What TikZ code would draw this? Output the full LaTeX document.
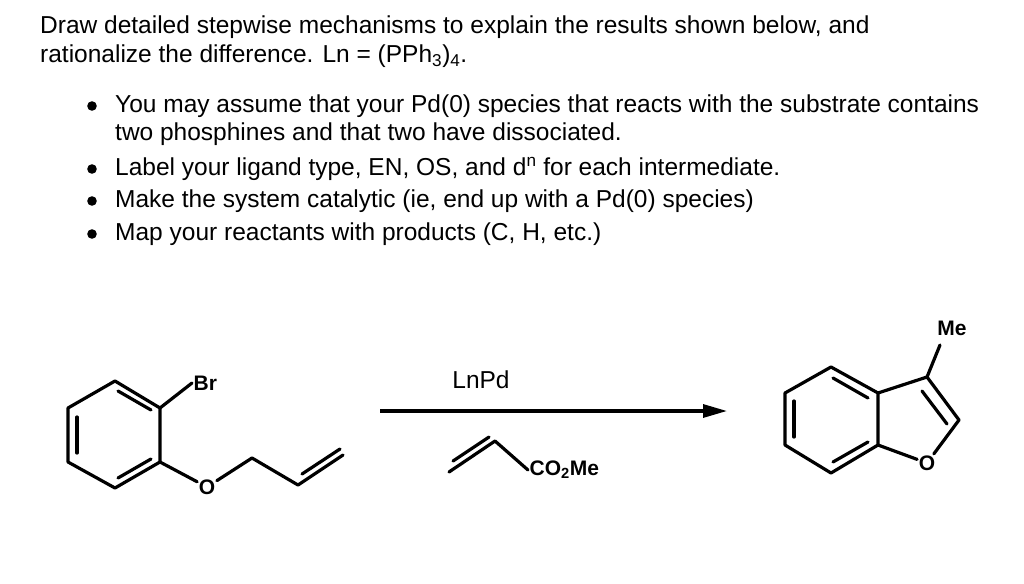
\documentclass[tikz,border=0pt]{standalone}
\usepackage{fontspec}
\setmainfont{Liberation Sans}
\usetikzlibrary{arrows.meta}
\begin{document}
\begin{tikzpicture}[x=1pt,y=-1pt,
  bond/.style={line width=3.2pt,line cap=round,line join=round},
  txt/.style={anchor=west,inner sep=0,font=\fontsize{24.5}{28}\selectfont},
  atom/.style={inner sep=1.5pt,font=\bfseries\fontsize{21}{24}\selectfont,fill=white}]
\useasboundingbox (0,0) rectangle (1024,583);
\fill[white] (0,0) rectangle (1024,583);
\node[txt] (t1) at (40,27) {Draw detailed stepwise mechanisms to explain the results shown below, and};
\node[txt] (t2) at (40,56) {rationalize the difference. Ln = (PPh\textsubscript{3})\textsubscript{4}.};
\foreach \y/\s [count=\i] in {106/{You may assume that your Pd(0) species that reacts with the substrate contains},
  169/{Label your ligand type, EN, OS, and d\textsuperscript{n} for each intermediate.},
  201/{Make the system catalytic (ie, end up with a Pd(0) species)},
  234/{Map your reactants with products (C, H, etc.)}}{
  \node[txt] (b\i) at (115,\y) {\s};
  \fill (92,\y) circle (4.8);
}
\node[txt] (b1b) at (115,134) {two phosphines and that two have dissociated.};
% left molecule
\coordinate (a1) at (115,381); \coordinate (a2) at (160,408); \coordinate (a3) at (160,462);
\coordinate (a4) at (115,488); \coordinate (a5) at (68,462); \coordinate (a6) at (68,408);
\draw[bond] (a1)--(a2)--(a3)--(a4)--(a5)--(a6)--cycle;
\draw[bond] (77,417) -- (77,453);
\draw[bond] (118,478) -- (151,459);
\draw[bond] (118,391) -- (151,410);
\node[atom,anchor=west] (br) at (192,383) {Br};
\draw[bond] (a2) -- (br.west);
\node[atom] (o1) at (207,487) {O};
\draw[bond] (a3) -- (o1);
\coordinate (c1) at (252,458); \coordinate (c2) at (298,485); \coordinate (c3) at (343,455);
\draw[bond] (o1) -- (c1) -- (c2) -- (c3);
\draw[bond] (302,474) -- (340,449);
% arrow
\coordinate (arS) at (380,411); \coordinate (arE) at (727,411);
\draw[line width=3.2pt,-{Triangle[length=24pt,width=13pt]}] (arS) -- (arE);
\node[inner sep=0,font=\fontsize{24.5}{28}\selectfont] (lnpd) at (481,380) {LnPd};
% acrylate
\node[atom,anchor=west] (co2) at (528,470) {CO\textsubscript{2}Me};
\coordinate (d1) at (449,472); \coordinate (d2) at (495,441);
\draw[bond] (d1) -- (d2) -- (co2.west);
\draw[bond] (453,461) -- (489,437);
% benzofuran
\coordinate (e1) at (831,367); \coordinate (e2) at (878,393); \coordinate (e3) at (878,445);
\coordinate (e4) at (831,473); \coordinate (e5) at (785,445); \coordinate (e6) at (785,393);
\draw[bond] (e1)--(e2)--(e3)--(e4)--(e5)--(e6)--cycle;
\draw[bond] (833,378) -- (868,398);
\draw[bond] (794,401) -- (794,437);
\draw[bond] (833,462) -- (868,442);
\coordinate (f3) at (927,377); \coordinate (f2) at (959,420);
\node[atom] (o2) at (927,463) {O};
\draw[bond] (e2) -- (f3) -- (f2) -- (o2) -- (e3);
\draw[bond] (922,391) -- (947,424);
\node[atom] (me) at (952,328) {Me};
\coordinate (meb) at (940,345);
\draw[bond] (f3) -- (meb);
\end{tikzpicture}
\end{document}
